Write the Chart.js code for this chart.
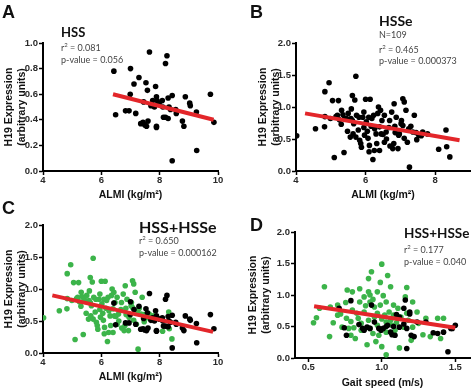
<!DOCTYPE html>
<html>
<head>
<meta charset="utf-8">
<script src="https://cdn.jsdelivr.net/npm/chart.js@4.4.0/dist/chart.umd.min.js"></script>
<style>
  body { margin: 0; width: 474px; height: 389px; overflow: hidden; background: #fff; position: relative; }
  canvas { position: absolute; }
  .t { position: absolute; white-space: nowrap; line-height: 1; font-family: Lato, "Liberation Sans", sans-serif; }
  .letter { font: bold 18px "Liberation Sans", Arial, sans-serif; color: #111; }
  .head { font-weight: bold; color: #111; }
  .small { font-size: 9px; color: #444; }
</style>
</head>
<body>
<canvas id="chartA"></canvas>
<canvas id="chartB"></canvas>
<canvas id="chartC"></canvas>
<canvas id="chartD"></canvas>

<div class="t letter" style="left:2px;top:2px">A</div>
<div class="t letter" style="left:250px;top:2px">B</div>
<div class="t letter" style="left:2px;top:198px">C</div>
<div class="t letter" style="left:250px;top:215px">D</div>

<div class="t head" style="left:61px;top:26px;font-size:13px">HSS</div>
<div class="t small" style="left:61px;top:42px">r<sup style="font-size:6px">2</sup> = 0.081</div>
<div class="t small" style="left:61px;top:55px">p-value = 0.056</div>

<div class="t head" style="left:379px;top:14px;font-size:14px">HSSe</div>
<div class="t small" style="left:379px;top:30px">N=109</div>
<div class="t small" style="left:379px;top:44px">r<sup style="font-size:6px">2</sup> = 0.465</div>
<div class="t small" style="left:379px;top:56px">p-value = 0.000373</div>

<div class="t head" style="left:139px;top:219px;font-size:16px">HSS+HSSe</div>
<div class="t small" style="left:139px;top:235px">r<sup style="font-size:6px">2</sup> = 0.650</div>
<div class="t small" style="left:139px;top:248px">p-value = 0.000162</div>

<div class="t head" style="left:404px;top:227px;font-size:13.5px">HSS+HSSe</div>
<div class="t small" style="left:404px;top:244px">r<sup style="font-size:6px">2</sup> = 0.177</div>
<div class="t small" style="left:404px;top:257px">p-value = 0.040</div>

<script>
// HSS cohort: ALMI vs H19 expression (panel A, black dots in C)
const hssAlmi = [6.43,6.49,7.0,7.65,8.25,8.2,6.83,6.95,6.99,7.12,7.29,7.18,7.53,7.58,7.45,7.43,7.49,7.55,7.6,7.35,
  7.86,7.89,7.91,7.98,7.82,7.89,7.89,8.11,8.13,8.29,8.32,8.37,8.43,8.29,8.43,8.55,8.57,8.78,8.83,8.88,
  9.03,9.05,9.27,9.26,9.74,9.86,8.09,7.76,7.7,8.2];
const hssH19 = [0.78,0.44,0.80,0.93,0.90,0.84,0.47,0.47,0.60,0.68,0.73,0.45,0.69,0.63,0.54,0.38,0.36,0.35,0.39,0.37,
  0.66,0.58,0.55,0.53,0.50,0.35,0.34,0.50,0.42,0.57,0.50,0.48,0.59,0.41,0.08,0.48,0.45,0.39,0.35,0.58,
  0.53,0.51,0.16,0.46,0.60,0.38,0.55,0.55,0.51,0.42];

// HSSe cohort: ALMI vs H19 expression (panel B, green dots in C)
const hsseAlmi = [4.02,4.56,4.83,4.83,4.82,4.95,4.99,5.05,5.10,5.19,5.22,5.31,5.30,5.38,5.45,5.50,5.56,5.59,5.62,5.69,
  5.72,5.66,5.64,5.74,5.79,5.83,5.88,5.92,5.95,6.00,6.02,6.07,6.11,6.10,6.13,6.16,6.21,6.23,6.25,6.30,
  6.32,6.37,6.40,6.43,6.47,6.50,6.54,6.59,6.69,6.70,6.78,6.82,6.84,6.88,6.93,6.97,7.02,7.07,7.07,7.11,
  7.16,7.11,7.24,7.26,7.36,7.40,7.47,7.53,7.64,7.78,8.10,8.31,8.33,8.42,5.40,5.58,5.62,5.72,5.81,5.86,
  5.97,6.09,6.18,6.40,6.54,6.67,6.81,6.95,7.03,6.45,5.25,5.35,6.05,6.26,6.60,5.48,5.95,6.35,6.75,7.20,
  7.45,5.15,6.85,7.30,7.60];
const hsseH19 = [0.55,0.66,0.85,1.24,0.69,1.38,0.82,1.10,0.21,0.87,1.10,0.95,0.73,0.29,0.82,0.90,0.53,0.97,1.18,1.11,
  1.48,0.74,0.58,0.87,0.64,0.48,0.37,0.84,0.92,1.12,0.77,0.51,0.40,0.30,1.12,0.70,0.18,0.87,0.32,0.58,
  0.43,1.00,0.69,0.95,0.79,0.57,0.45,0.61,0.79,0.39,0.35,1.05,0.70,0.84,0.35,0.58,0.74,0.71,1.13,1.08,
  0.95,0.51,0.66,0.06,0.61,0.87,0.49,0.56,0.61,0.58,0.34,0.64,0.38,0.22,0.82,0.82,0.79,0.53,0.84,0.43,
  0.56,0.84,0.82,0.32,0.87,0.68,0.43,0.56,0.79,0.58,0.80,0.88,0.62,0.66,0.50,0.62,0.68,0.90,0.92,0.45,
  0.60,0.85,0.60,0.70,0.55];

// Gait speed vs H19 (panel D)
const gaitHsse = [0.536,0.556,0.577,0.61,0.645,0.65,0.67,0.70,0.72,0.73,0.755,0.765,0.76,0.775,
  1.0,0.93,1.04,0.91,0.99,0.85,0.80,1.06,1.17,0.97,0.92,0.88,1.01,0.85,0.92,0.95,0.99,1.03,1.08,1.11,
  1.16,1.21,0.80,0.83,0.88,0.97,1.02,1.05,1.08,1.13,1.17,1.24,1.30,1.38,1.42,0.79,0.86,0.91,0.97,1.03,
  1.07,1.15,1.21,0.79,0.82,0.86,0.90,0.94,0.98,1.03,0.96,1.0,1.03,1.12,1.20,1.28,1.33,1.40,0.70,0.91,
  0.94,0.89,1.06,0.84,1.10,0.95,1.00,1.18,0.92,1.09,0.81,1.25];
const gaitHsseH19 = [0.56,0.64,0.79,1.13,0.34,0.81,0.56,0.84,0.70,0.49,0.88,1.08,0.63,0.47,
  1.49,1.37,1.31,1.26,1.20,1.10,1.05,1.13,1.12,1.05,1.00,0.97,0.99,0.89,0.89,0.81,0.84,0.89,0.84,0.79,
  0.97,0.89,0.76,0.71,0.73,0.71,0.68,0.73,0.68,0.65,0.71,0.73,0.63,0.63,0.63,0.58,0.55,0.60,0.52,0.57,
  0.52,0.49,0.49,0.36,0.31,0.44,0.21,0.39,0.36,0.41,0.26,0.18,0.05,0.16,0.28,0.37,0.34,0.31,0.68,1.05,
  0.93,0.83,0.60,0.63,0.56,0.65,0.62,0.60,0.47,0.44,0.48,0.55];
const gaitHss = [0.71,0.745,0.76,0.79,0.845,0.87,0.88,0.90,0.92,0.93,0.95,0.98,0.995,1.01,1.04,1.06,1.07,1.09,1.10,1.12,
  1.15,1.16,1.17,1.15,1.17,1.19,1.19,1.20,1.22,1.24,1.30,1.35,1.38,1.42,1.47,1.48,1.45,1.50,1.12,1.08,1.03];
const gaitHssH19 = [0.79,0.48,0.36,0.91,0.53,0.47,0.44,0.49,0.47,0.84,0.57,0.47,0.44,0.47,0.52,0.41,0.37,0.36,0.69,0.65,
  0.79,0.92,0.15,0.54,0.47,0.70,0.73,0.36,0.34,0.57,0.57,0.40,0.39,0.41,0.47,0.47,0.10,0.52,0.49,0.50,0.50];

// regression lines (x start/end, y start/end)
const fitAX = [6.4, 9.85], fitAY = [0.60, 0.40];
const fitBX = [4.26, 8.7], fitBY = [0.90, 0.48];
const fitCX = [4.32, 9.83], fitCY = [0.90, 0.33];
const fitDX = [0.54, 1.5], fitDY = [0.82, 0.48];

const ticksAlmi = [4, 6, 8, 10];
const ticksAlmiB = [4, 6, 8];
const ticksGait = [0.5, 1.0, 1.5];
const yTicks1 = [0, 0.2, 0.4, 0.6, 0.8, 1.0];
const yTicks2 = [0, 0.5, 1.0, 1.5, 2.0];

const black = "#000000";
const green = "#3cb44a";
const red = "#e3262a";

function pts(xs, ys) {
  return xs.map((x, i) => ({ x: x, y: ys[i] }));
}

function scatterSet(xs, ys, color) {
  return {
    type: "scatter",
    data: pts(xs, ys),
    backgroundColor: color,
    borderWidth: 0,
    pointRadius: 2.8,
    pointHoverRadius: 2.8
  };
}

function fitSet(xs, ys) {
  return {
    type: "line",
    data: pts(xs, ys),
    borderColor: red,
    borderWidth: 4,
    pointRadius: 0,
    fill: false
  };
}

const tickFont = { family: "'Liberation Sans', Arial, sans-serif", size: 9.5, weight: "bold" };
const titleFont = { family: "'Liberation Sans', Arial, sans-serif", size: 10.5, weight: "bold" };

function makeChart(id, p) {
  const cv = document.getElementById(id);
  cv.style.left = p.left + "px";
  cv.style.top = p.top + "px";
  cv.width = p.w;
  cv.height = p.h;
  cv.style.width = p.w + "px";
  cv.style.height = p.h + "px";

  new Chart(id, {
    data: { datasets: p.datasets },
    options: {
      responsive: false,
      animation: false,
      events: [],
      layout: { padding: { left: p.padLeft, right: p.padRight, top: p.padTop, bottom: 0 } },
      plugins: { legend: { display: false }, tooltip: { enabled: false } },
      scales: {
        x: {
          type: "linear",
          min: p.xMin,
          max: p.xMax,
          afterBuildTicks: (s) => { s.ticks = p.xTicks.map(v => ({ value: v })); },
          afterFit: (s) => { s.height = p.xHeight; },
          border: { color: black, width: 2 },
          grid: { drawOnChartArea: false, color: black, tickLength: 4, tickWidth: 1.5 },
          ticks: {
            color: "#2a2a2a",
            font: tickFont,
            padding: 0,
            maxRotation: 0,
            callback: p.xFmt
          },
          title: {
            display: true,
            text: p.xTitle,
            color: "#111",
            font: titleFont,
            padding: { top: 2, bottom: 4 }
          }
        },
        y: {
          type: "linear",
          min: 0,
          max: p.yMax,
          afterBuildTicks: (s) => { s.ticks = p.yTicks.map(v => ({ value: v })); },
          afterFit: (s) => { s.width = p.yWidth; },
          border: { color: black, width: 2 },
          grid: { drawOnChartArea: false, color: black, tickLength: 4, tickWidth: 1.5 },
          ticks: {
            color: "#2a2a2a",
            font: tickFont,
            padding: 1,
            callback: (v) => v.toFixed(1)
          },
          title: {
            display: true,
            text: ["H19 Expression", "(arbitrary units)"],
            color: "#111",
            font: titleFont,
            padding: { top: 3, bottom: 1 }
          }
        }
      }
    }
  });
}

makeChart("chartA", {
  left: 0, top: 0, w: 237, h: 205,
  padLeft: 0, padRight: 19, padTop: 43, yWidth: 43, xHeight: 34,
  xMin: 4, xMax: 10, xTicks: ticksAlmi, xFmt: (v) => v, xTitle: "ALMI (kg/m²)",
  yMax: 1.0, yTicks: yTicks1,
  datasets: [fitSet(fitAX, fitAY), scatterSet(hssAlmi, hssH19, black)]
});

makeChart("chartB", {
  left: 237, top: 0, w: 237, h: 205,
  padLeft: 17, padRight: 4, padTop: 43, yWidth: 42, xHeight: 34,
  xMin: 4, xMax: 9, xTicks: ticksAlmiB, xFmt: (v) => v, xTitle: "ALMI (kg/m²)",
  yMax: 2.0, yTicks: yTicks2,
  datasets: [fitSet(fitBX, fitBY), scatterSet(hsseAlmi, hsseH19, black)]
});

makeChart("chartC", {
  left: 0, top: 195, w: 237, h: 192,
  padLeft: 0, padRight: 19, padTop: 30, yWidth: 43, xHeight: 34,
  xMin: 4, xMax: 10, xTicks: ticksAlmi, xFmt: (v) => v, xTitle: "ALMI (kg/m²)",
  yMax: 2.0, yTicks: yTicks2,
  datasets: [fitSet(fitCX, fitCY), scatterSet(hssAlmi, hssH19, black), scatterSet(hsseAlmi, hsseH19, green)]
});

makeChart("chartD", {
  left: 237, top: 195, w: 237, h: 198,
  padLeft: 7, padRight: 4, padTop: 37, yWidth: 51, xHeight: 35,
  xMin: 0.41, xMax: 1.6, xTicks: ticksGait, xFmt: (v) => v.toFixed(1), xTitle: "Gait speed (m/s)",
  yMax: 2.0, yTicks: yTicks2,
  datasets: [fitSet(fitDX, fitDY), scatterSet(gaitHss, gaitHssH19, black), scatterSet(gaitHsse, gaitHsseH19, green)]
});
</script>
</body>
</html>
